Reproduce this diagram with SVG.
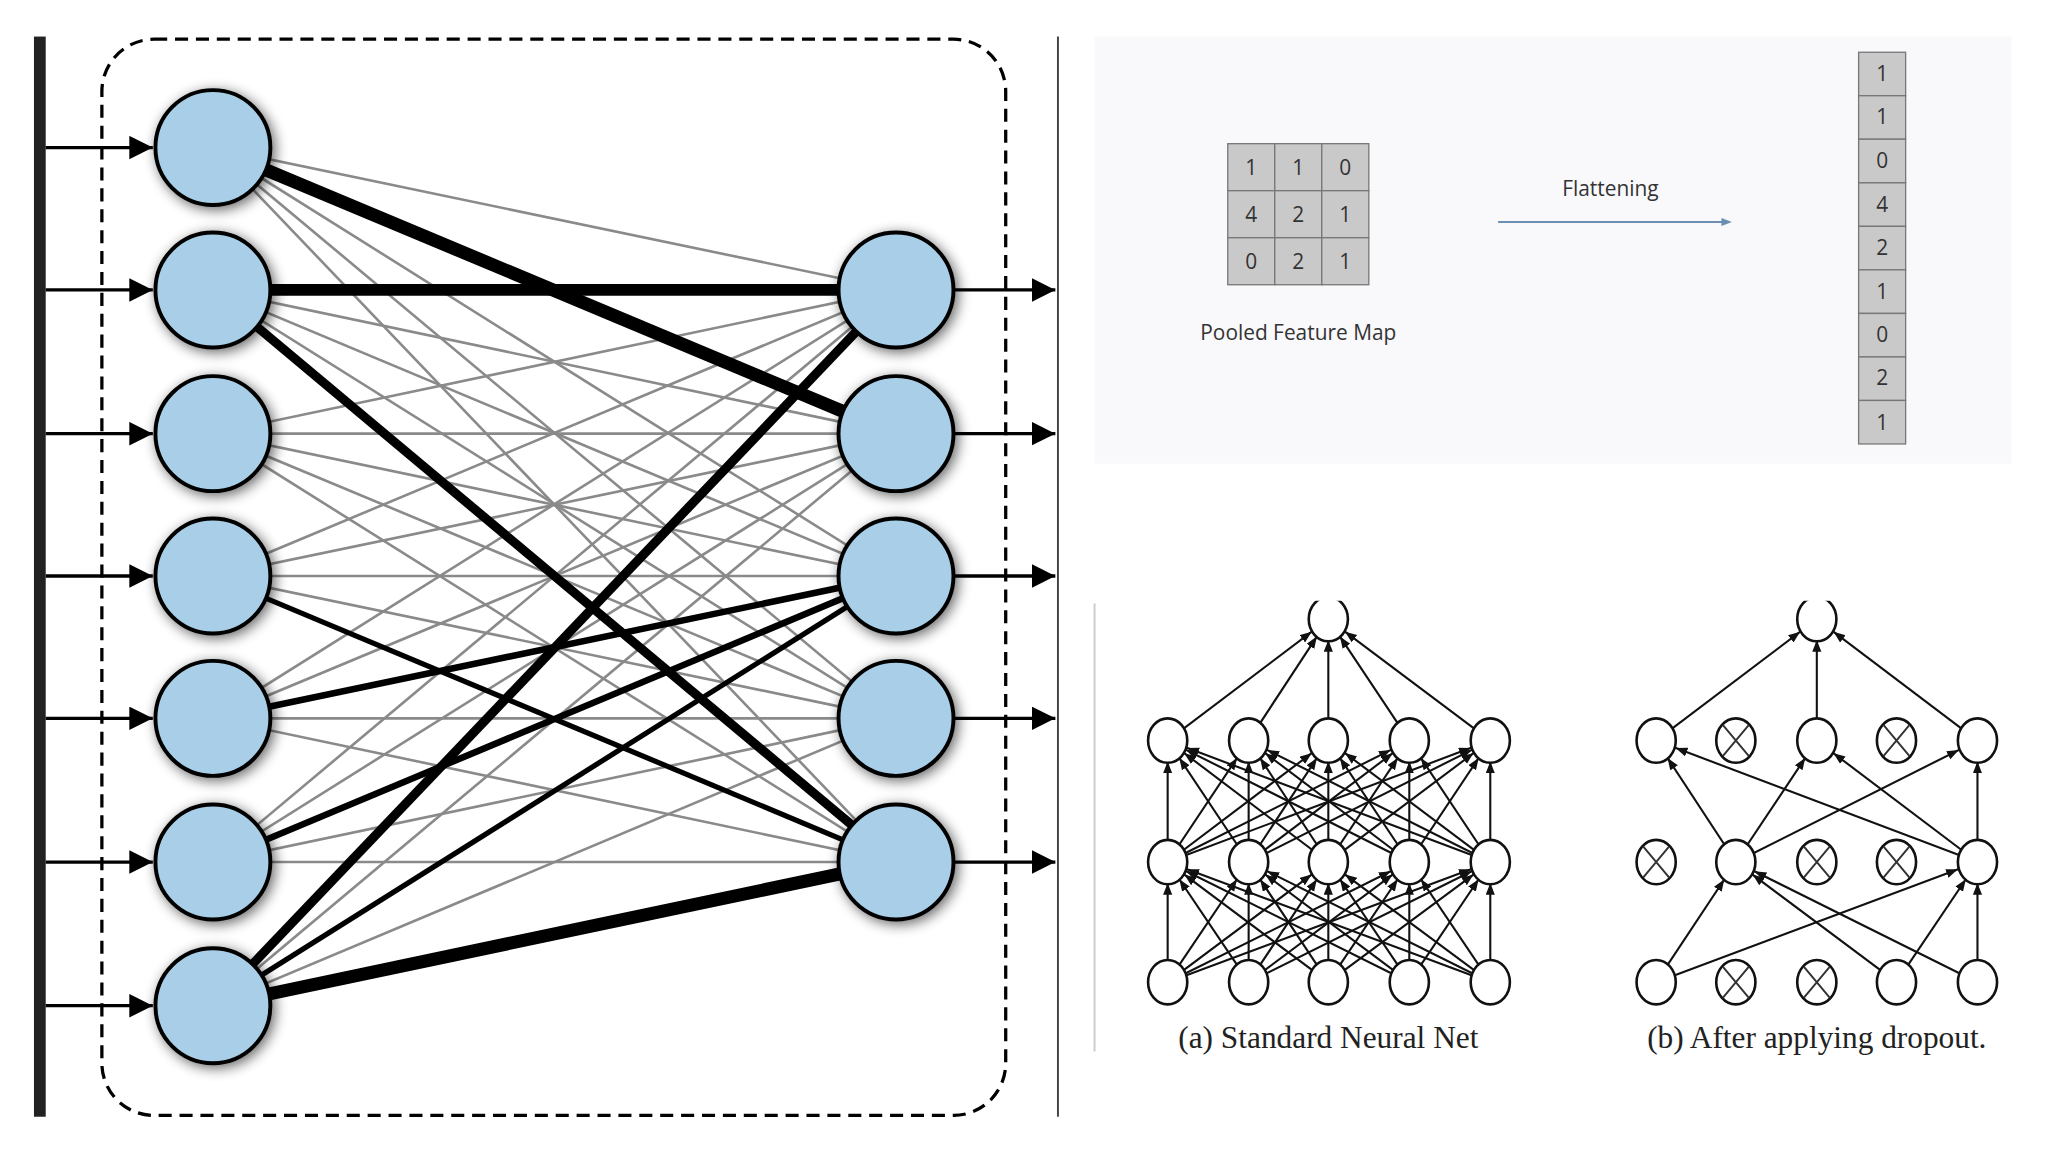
<svg xmlns="http://www.w3.org/2000/svg" width="2048" height="1152" viewBox="0 0 2048 1152">
<style>
.g{stroke:#8a8a8a;stroke-width:2}
.k{stroke:#000}
.n{fill:#a9cfe8;stroke:#000;stroke-width:3}
.io{stroke:#000;stroke-width:2.5;marker-end:url(#ah)}
.cell{fill:#c9c9c9;stroke:#777;stroke-width:1}
.num{font-family:"Open Sans","Liberation Sans",sans-serif;font-size:16px;fill:#333;text-anchor:middle}
.e{fill:#fff;stroke:#111;stroke-width:2}
.ed{stroke:#111;stroke-width:1.6;marker-end:url(#sa)}
.x{stroke:#333;stroke-width:1.5}
.cap{font-family:"Liberation Serif","DejaVu Serif",serif;font-size:24px;fill:#222;text-anchor:middle}
</style>
<defs>
<marker id="ah" markerUnits="userSpaceOnUse" markerWidth="20" markerHeight="20" refX="18" refY="9" orient="auto"><path d="M0,0 L18,9 L0,18 z" fill="#000"/></marker>
<marker id="sa" markerUnits="userSpaceOnUse" markerWidth="40" markerHeight="12" refX="25" refY="3.5" orient="auto"><path d="M0,0 L9,3.5 L0,7 z" fill="#111"/></marker>
<filter id="sh" x="-40%" y="-40%" width="180%" height="180%"><feGaussianBlur in="SourceAlpha" stdDeviation="5"/><feOffset dx="2" dy="2"/><feComponentTransfer><feFuncA type="linear" slope="0.6"/></feComponentTransfer><feMerge><feMergeNode/><feMergeNode in="SourceGraphic"/></feMerge></filter>
<clipPath id="clipb"><rect x="838" y="460" width="720" height="400"/></clipPath>
</defs>
<rect width="2048" height="1152" fill="#fff"/>
<g transform="scale(1.30612)">
<g id="left-panel">
<rect x="26" y="28" width="9" height="827" fill="#222"/>
<line x1="810" y1="28" x2="810" y2="855" stroke="#444" stroke-width="1.5"/>
<rect x="78" y="30" width="692" height="824" rx="40" fill="none" stroke="#000" stroke-width="2.5" stroke-dasharray="10,6"/>
</g>
<g id="connectors">
<g class="g">
<line x1="163" y1="113" x2="686" y2="222"/><line x1="163" y1="113" x2="686" y2="441"/><line x1="163" y1="113" x2="686" y2="550"/><line x1="163" y1="113" x2="686" y2="660"/>
<line x1="163" y1="222" x2="686" y2="332"/><line x1="163" y1="222" x2="686" y2="441"/><line x1="163" y1="222" x2="686" y2="550"/>
<line x1="163" y1="332" x2="686" y2="222"/><line x1="163" y1="332" x2="686" y2="332"/><line x1="163" y1="332" x2="686" y2="441"/><line x1="163" y1="332" x2="686" y2="550"/><line x1="163" y1="332" x2="686" y2="660"/>
<line x1="163" y1="441" x2="686" y2="222"/><line x1="163" y1="441" x2="686" y2="332"/><line x1="163" y1="441" x2="686" y2="441"/><line x1="163" y1="441" x2="686" y2="550"/>
<line x1="163" y1="550" x2="686" y2="222"/><line x1="163" y1="550" x2="686" y2="332"/><line x1="163" y1="550" x2="686" y2="550"/><line x1="163" y1="550" x2="686" y2="660"/>
<line x1="163" y1="660" x2="686" y2="222"/><line x1="163" y1="660" x2="686" y2="332"/><line x1="163" y1="660" x2="686" y2="441"/><line x1="163" y1="660" x2="686" y2="550"/><line x1="163" y1="660" x2="686" y2="660"/>
<line x1="163" y1="770" x2="686" y2="332"/><line x1="163" y1="770" x2="686" y2="550"/>
</g>
<g class="k">
<line x1="163" y1="113" x2="686" y2="332" stroke-width="10"/>
<line x1="163" y1="222" x2="686" y2="222" stroke-width="9"/>
<line x1="163" y1="222" x2="686" y2="660" stroke-width="7"/>
<line x1="163" y1="441" x2="686" y2="660" stroke-width="4"/>
<line x1="163" y1="550" x2="686" y2="441" stroke-width="5"/>
<line x1="163" y1="660" x2="686" y2="441" stroke-width="5"/>
<line x1="163" y1="770" x2="686" y2="222" stroke-width="7"/>
<line x1="163" y1="770" x2="686" y2="441" stroke-width="4"/>
<line x1="163" y1="770" x2="686" y2="660" stroke-width="10"/>
</g>
<g>
<line class="io" x1="35" y1="113" x2="117" y2="113"/><line class="io" x1="35" y1="222" x2="117" y2="222"/><line class="io" x1="35" y1="332" x2="117" y2="332"/><line class="io" x1="35" y1="441" x2="117" y2="441"/><line class="io" x1="35" y1="550" x2="117" y2="550"/><line class="io" x1="35" y1="660" x2="117" y2="660"/><line class="io" x1="35" y1="770" x2="117" y2="770"/>
<line class="io" x1="730" y1="222" x2="808" y2="222"/><line class="io" x1="730" y1="332" x2="808" y2="332"/><line class="io" x1="730" y1="441" x2="808" y2="441"/><line class="io" x1="730" y1="550" x2="808" y2="550"/><line class="io" x1="730" y1="660" x2="808" y2="660"/>
</g>
</g>
<g id="nodes-left" filter="url(#sh)">
<circle class="n" cx="163" cy="113" r="44"/><circle class="n" cx="163" cy="222" r="44"/><circle class="n" cx="163" cy="332" r="44"/><circle class="n" cx="163" cy="441" r="44"/><circle class="n" cx="163" cy="550" r="44"/><circle class="n" cx="163" cy="660" r="44"/><circle class="n" cx="163" cy="770" r="44"/>
</g>
<g id="nodes-right" filter="url(#sh)">
<circle class="n" cx="686" cy="222" r="44"/><circle class="n" cx="686" cy="332" r="44"/><circle class="n" cx="686" cy="441" r="44"/><circle class="n" cx="686" cy="550" r="44"/><circle class="n" cx="686" cy="660" r="44"/>
</g>

<g id="flattening">
<rect x="838" y="28" width="702" height="327" fill="#f9f9fb"/>
<g id="pooled-map">
<rect class="cell" x="940" y="110" width="36" height="36"/><rect class="cell" x="976" y="110" width="36" height="36"/><rect class="cell" x="1012" y="110" width="36" height="36"/>
<rect class="cell" x="940" y="146" width="36" height="36"/><rect class="cell" x="976" y="146" width="36" height="36"/><rect class="cell" x="1012" y="146" width="36" height="36"/>
<rect class="cell" x="940" y="182" width="36" height="36"/><rect class="cell" x="976" y="182" width="36" height="36"/><rect class="cell" x="1012" y="182" width="36" height="36"/>
<text class="num" x="958" y="134">1</text><text class="num" x="994" y="134">1</text><text class="num" x="1030" y="134">0</text>
<text class="num" x="958" y="170">4</text><text class="num" x="994" y="170">2</text><text class="num" x="1030" y="170">1</text>
<text class="num" x="958" y="206">0</text><text class="num" x="994" y="206">2</text><text class="num" x="1030" y="206">1</text>
<text class="num" x="994" y="260" font-size="19.5">Pooled Feature Map</text>
</g>
<text class="num" x="1233" y="150" font-size="20">Flattening</text>
<line x1="1147" y1="170" x2="1322" y2="170" stroke="#6a8fb0" stroke-width="1.5"/>
<path d="M1318,167 L1326,170 L1318,173 z" fill="#6a8fb0"/>
<g id="flat-column">
<rect class="cell" x="1423" y="40" width="36" height="33.3"/><rect class="cell" x="1423" y="73.3" width="36" height="33.3"/><rect class="cell" x="1423" y="106.6" width="36" height="33.3"/>
<rect class="cell" x="1423" y="140" width="36" height="33.3"/><rect class="cell" x="1423" y="173.3" width="36" height="33.3"/><rect class="cell" x="1423" y="206.6" width="36" height="33.3"/>
<rect class="cell" x="1423" y="240" width="36" height="33.3"/><rect class="cell" x="1423" y="273.3" width="36" height="33.3"/><rect class="cell" x="1423" y="306.6" width="36" height="33.3"/>
<text class="num" x="1441" y="62">1</text><text class="num" x="1441" y="95">1</text><text class="num" x="1441" y="129">0</text><text class="num" x="1441" y="162">4</text><text class="num" x="1441" y="195">2</text><text class="num" x="1441" y="229">1</text><text class="num" x="1441" y="262">0</text><text class="num" x="1441" y="295">2</text><text class="num" x="1441" y="329">1</text>
</g>
</g>

<line x1="838" y1="462" x2="838" y2="805" stroke="#ccc" stroke-width="1.5"/>
<g id="dropout" clip-path="url(#clipb)">
<g id="net-a-edges">
<line class="ed" x1="894" y1="567" x2="1017" y2="474"/><line class="ed" x1="956" y1="567" x2="1017" y2="474"/><line class="ed" x1="1017" y1="567" x2="1017" y2="474"/><line class="ed" x1="1079" y1="567" x2="1017" y2="474"/><line class="ed" x1="1141" y1="567" x2="1017" y2="474"/>
<line class="ed" x1="894" y1="660" x2="894" y2="567"/><line class="ed" x1="894" y1="660" x2="956" y2="567"/><line class="ed" x1="894" y1="660" x2="1017" y2="567"/><line class="ed" x1="894" y1="660" x2="1079" y2="567"/><line class="ed" x1="894" y1="660" x2="1141" y2="567"/>
<line class="ed" x1="956" y1="660" x2="894" y2="567"/><line class="ed" x1="956" y1="660" x2="956" y2="567"/><line class="ed" x1="956" y1="660" x2="1017" y2="567"/><line class="ed" x1="956" y1="660" x2="1079" y2="567"/><line class="ed" x1="956" y1="660" x2="1141" y2="567"/>
<line class="ed" x1="1017" y1="660" x2="894" y2="567"/><line class="ed" x1="1017" y1="660" x2="956" y2="567"/><line class="ed" x1="1017" y1="660" x2="1017" y2="567"/><line class="ed" x1="1017" y1="660" x2="1079" y2="567"/><line class="ed" x1="1017" y1="660" x2="1141" y2="567"/>
<line class="ed" x1="1079" y1="660" x2="894" y2="567"/><line class="ed" x1="1079" y1="660" x2="956" y2="567"/><line class="ed" x1="1079" y1="660" x2="1017" y2="567"/><line class="ed" x1="1079" y1="660" x2="1079" y2="567"/><line class="ed" x1="1079" y1="660" x2="1141" y2="567"/>
<line class="ed" x1="1141" y1="660" x2="894" y2="567"/><line class="ed" x1="1141" y1="660" x2="956" y2="567"/><line class="ed" x1="1141" y1="660" x2="1017" y2="567"/><line class="ed" x1="1141" y1="660" x2="1079" y2="567"/><line class="ed" x1="1141" y1="660" x2="1141" y2="567"/>
<line class="ed" x1="894" y1="752" x2="894" y2="660"/><line class="ed" x1="894" y1="752" x2="956" y2="660"/><line class="ed" x1="894" y1="752" x2="1017" y2="660"/><line class="ed" x1="894" y1="752" x2="1079" y2="660"/><line class="ed" x1="894" y1="752" x2="1141" y2="660"/>
<line class="ed" x1="956" y1="752" x2="894" y2="660"/><line class="ed" x1="956" y1="752" x2="956" y2="660"/><line class="ed" x1="956" y1="752" x2="1017" y2="660"/><line class="ed" x1="956" y1="752" x2="1079" y2="660"/><line class="ed" x1="956" y1="752" x2="1141" y2="660"/>
<line class="ed" x1="1017" y1="752" x2="894" y2="660"/><line class="ed" x1="1017" y1="752" x2="956" y2="660"/><line class="ed" x1="1017" y1="752" x2="1017" y2="660"/><line class="ed" x1="1017" y1="752" x2="1079" y2="660"/><line class="ed" x1="1017" y1="752" x2="1141" y2="660"/>
<line class="ed" x1="1079" y1="752" x2="894" y2="660"/><line class="ed" x1="1079" y1="752" x2="956" y2="660"/><line class="ed" x1="1079" y1="752" x2="1017" y2="660"/><line class="ed" x1="1079" y1="752" x2="1079" y2="660"/><line class="ed" x1="1079" y1="752" x2="1141" y2="660"/>
<line class="ed" x1="1141" y1="752" x2="894" y2="660"/><line class="ed" x1="1141" y1="752" x2="956" y2="660"/><line class="ed" x1="1141" y1="752" x2="1017" y2="660"/><line class="ed" x1="1141" y1="752" x2="1079" y2="660"/><line class="ed" x1="1141" y1="752" x2="1141" y2="660"/>
</g>
<g id="net-a-nodes">
<ellipse class="e" cx="1017" cy="474" rx="15" ry="17"/>
<ellipse class="e" cx="894" cy="567" rx="15" ry="17"/><ellipse class="e" cx="956" cy="567" rx="15" ry="17"/><ellipse class="e" cx="1017" cy="567" rx="15" ry="17"/><ellipse class="e" cx="1079" cy="567" rx="15" ry="17"/><ellipse class="e" cx="1141" cy="567" rx="15" ry="17"/>
<ellipse class="e" cx="894" cy="660" rx="15" ry="17"/><ellipse class="e" cx="956" cy="660" rx="15" ry="17"/><ellipse class="e" cx="1017" cy="660" rx="15" ry="17"/><ellipse class="e" cx="1079" cy="660" rx="15" ry="17"/><ellipse class="e" cx="1141" cy="660" rx="15" ry="17"/>
<ellipse class="e" cx="894" cy="752" rx="15" ry="17"/><ellipse class="e" cx="956" cy="752" rx="15" ry="17"/><ellipse class="e" cx="1017" cy="752" rx="15" ry="17"/><ellipse class="e" cx="1079" cy="752" rx="15" ry="17"/><ellipse class="e" cx="1141" cy="752" rx="15" ry="17"/>
</g>
<g id="net-b-edges">
<line class="ed" x1="1268" y1="567" x2="1391" y2="474"/><line class="ed" x1="1391" y1="567" x2="1391" y2="474"/><line class="ed" x1="1514" y1="567" x2="1391" y2="474"/>
<line class="ed" x1="1329" y1="660" x2="1268" y2="567"/><line class="ed" x1="1329" y1="660" x2="1391" y2="567"/><line class="ed" x1="1329" y1="660" x2="1514" y2="567"/>
<line class="ed" x1="1514" y1="660" x2="1268" y2="567"/><line class="ed" x1="1514" y1="660" x2="1391" y2="567"/><line class="ed" x1="1514" y1="660" x2="1514" y2="567"/>
<line class="ed" x1="1268" y1="752" x2="1329" y2="660"/><line class="ed" x1="1268" y1="752" x2="1514" y2="660"/>
<line class="ed" x1="1452" y1="752" x2="1329" y2="660"/><line class="ed" x1="1452" y1="752" x2="1514" y2="660"/>
<line class="ed" x1="1514" y1="752" x2="1329" y2="660"/><line class="ed" x1="1514" y1="752" x2="1514" y2="660"/>
</g>
<g id="net-b-nodes">
<ellipse class="e" cx="1391" cy="474" rx="15" ry="17"/>
<ellipse class="e" cx="1268" cy="567" rx="15" ry="17"/><ellipse class="e" cx="1391" cy="567" rx="15" ry="17"/><ellipse class="e" cx="1514" cy="567" rx="15" ry="17"/>
<ellipse class="e" cx="1329" cy="660" rx="15" ry="17"/><ellipse class="e" cx="1514" cy="660" rx="15" ry="17"/>
<ellipse class="e" cx="1268" cy="752" rx="15" ry="17"/><ellipse class="e" cx="1452" cy="752" rx="15" ry="17"/><ellipse class="e" cx="1514" cy="752" rx="15" ry="17"/>
</g>
<g id="net-b-dropped">
<g transform="translate(1329,567)"><ellipse class="e" rx="15" ry="17" stroke="#555"/><path class="x" d="M-10,-12 L10,12 M10,-12 L-10,12"/></g>
<g transform="translate(1452,567)"><ellipse class="e" rx="15" ry="17" stroke="#555"/><path class="x" d="M-10,-12 L10,12 M10,-12 L-10,12"/></g>
<g transform="translate(1268,660)"><ellipse class="e" rx="15" ry="17" stroke="#555"/><path class="x" d="M-10,-12 L10,12 M10,-12 L-10,12"/></g>
<g transform="translate(1391,660)"><ellipse class="e" rx="15" ry="17" stroke="#555"/><path class="x" d="M-10,-12 L10,12 M10,-12 L-10,12"/></g>
<g transform="translate(1452,660)"><ellipse class="e" rx="15" ry="17" stroke="#555"/><path class="x" d="M-10,-12 L10,12 M10,-12 L-10,12"/></g>
<g transform="translate(1329,752)"><ellipse class="e" rx="15" ry="17" stroke="#555"/><path class="x" d="M-10,-12 L10,12 M10,-12 L-10,12"/></g>
<g transform="translate(1391,752)"><ellipse class="e" rx="15" ry="17" stroke="#555"/><path class="x" d="M-10,-12 L10,12 M10,-12 L-10,12"/></g>
</g>
<text class="cap" x="1017" y="802">(a) Standard Neural Net</text>
<text class="cap" x="1391" y="802">(b) After applying dropout.</text>
</g>
</g>
</svg>
